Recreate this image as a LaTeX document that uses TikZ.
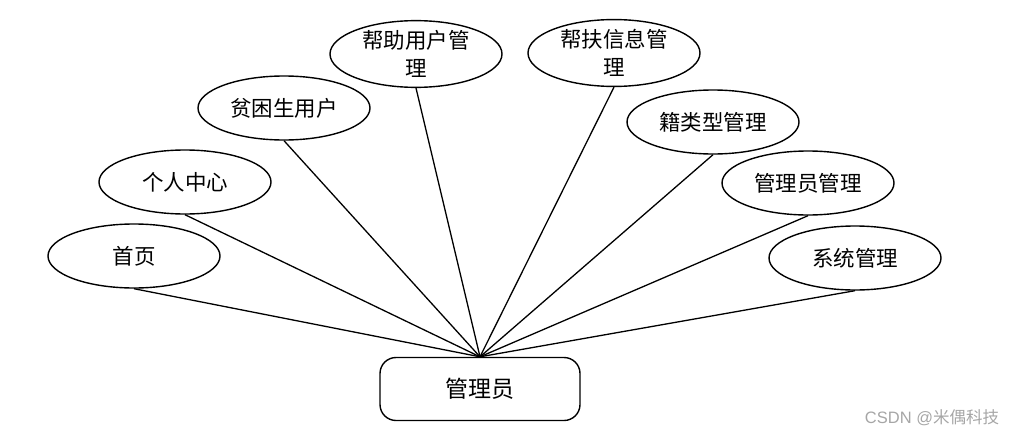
\documentclass[tikz,border=0pt]{standalone}
\usepackage{fontspec}
\setmainfont{Noto Sans CJK SC}
\newfontfamily\wmfont{Liberation Sans}
\usetikzlibrary{shapes.geometric}
\begin{document}
\begin{tikzpicture}[x=1pt,y=-1pt,
  ent/.style={draw,line width=1.4pt,ellipse,minimum width=172pt,minimum height=64pt,inner sep=0pt,font=\fontsize{21.5}{28}\selectfont,align=center},
  adm/.style={draw,line width=1.4pt,rounded corners=16pt,minimum width=200pt,minimum height=63pt,font=\fontsize{23}{26}\selectfont},
  link/.style={line width=1.3pt}]
\useasboundingbox (0,0) rectangle (1016,436);
\node[ent] (e1) at (134,256) {首页};
\node[ent] (e2) at (185,182) {个人中心};
\node[ent] (e3) at (284,108) {贫困生用户};
\node[ent,text width=116pt] (e4) at (416,54) {帮助用户管\\理};
\node[ent,text width=116pt] (e5) at (614,53) {帮扶信息管\\理};
\node[ent] (e6) at (713,122) {籍类型管理};
\node[ent] (e7) at (808,183) {管理员管理};
\node[ent] (e8) at (855,258) {系统管理};
\node[adm] (r) at (480,389) {管理员};
\foreach \i in {1,...,8} \draw[link] (e\i.south) -- (r.north);
\node[text=gray!70,font=\fontsize{16.5}{18}\selectfont] (wm) at (932,418) {{\wmfont CSDN @}米偶科技};
\end{tikzpicture}
\end{document}
